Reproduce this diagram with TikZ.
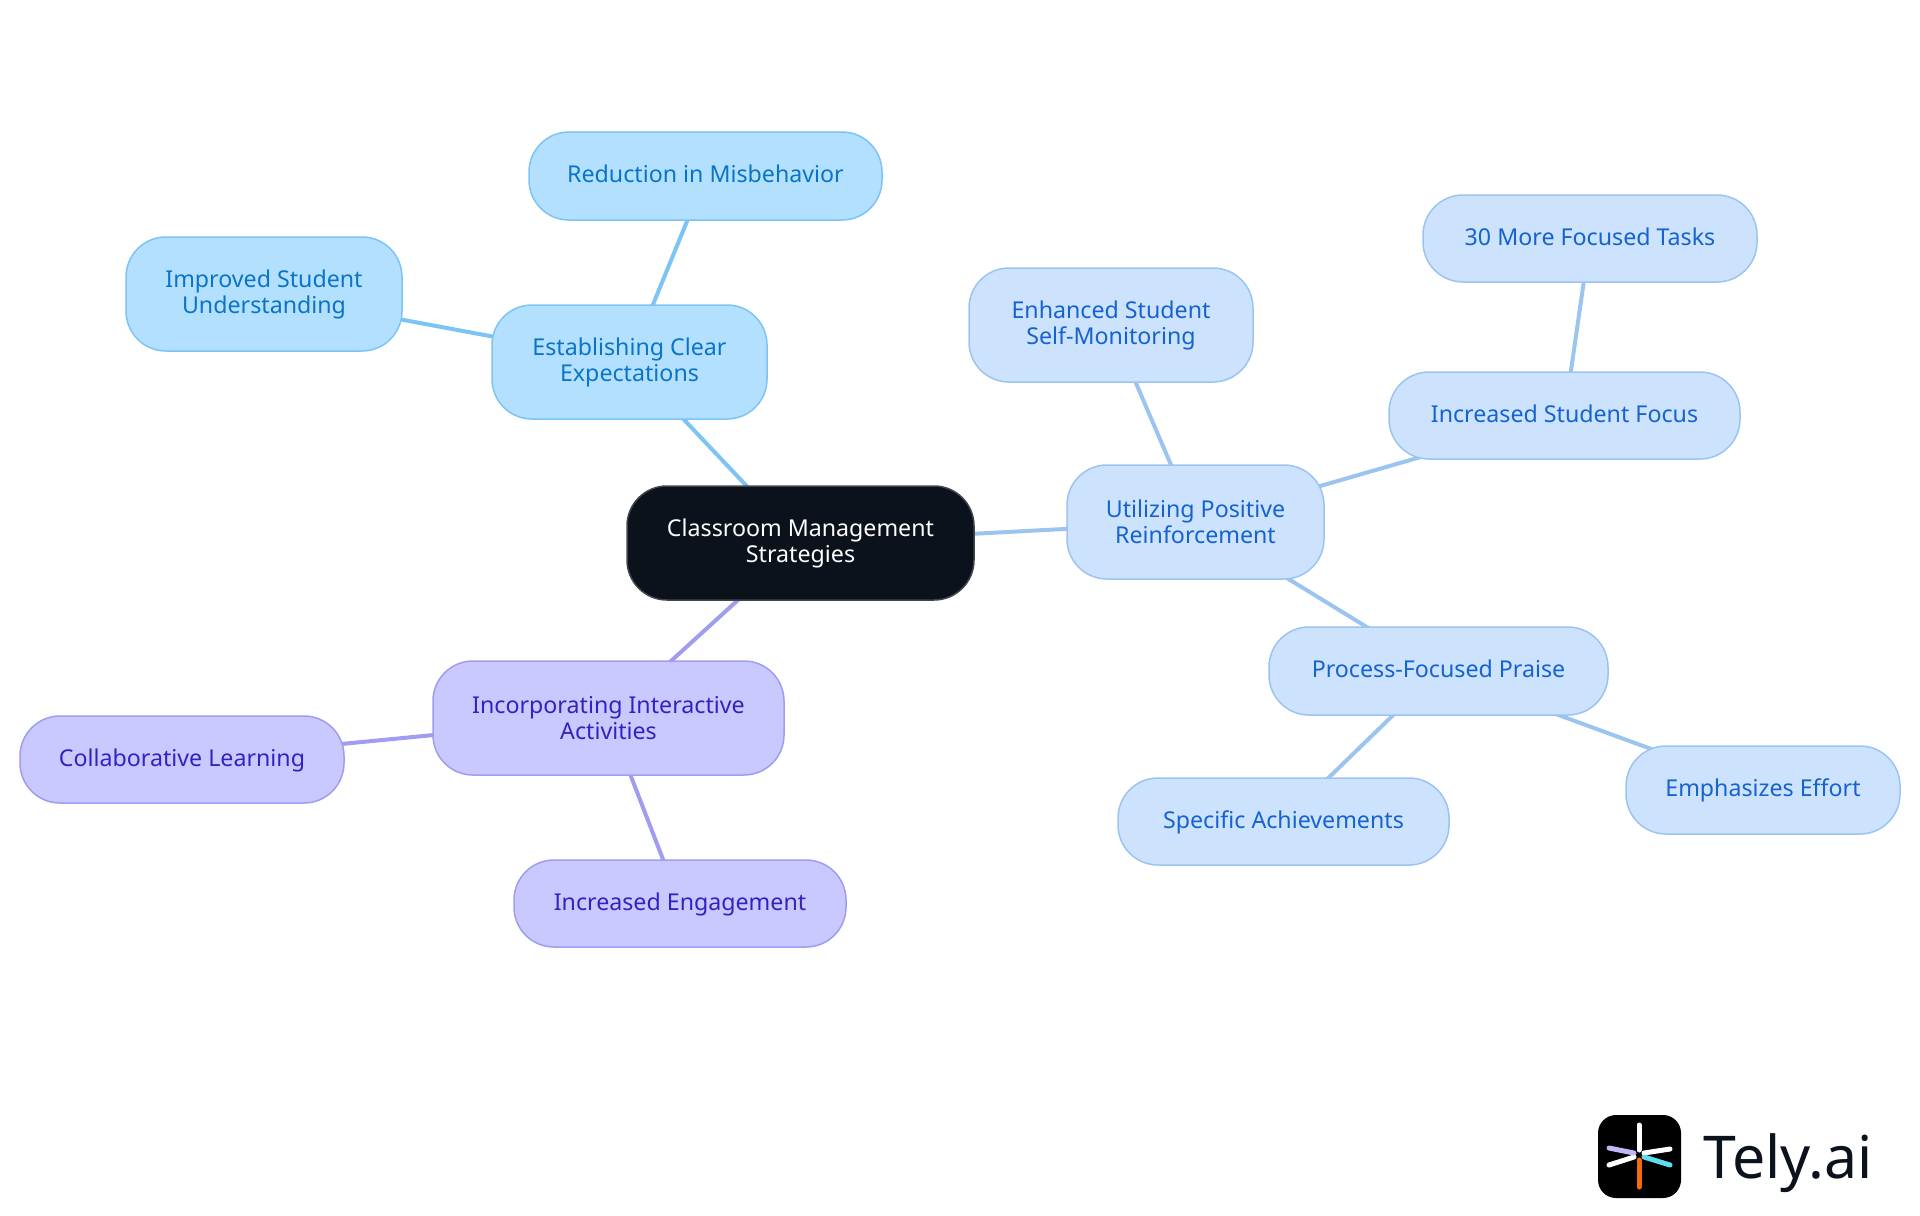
\documentclass[tikz,border=0pt]{standalone}
\usepackage{fontspec}
\setmainfont{Noto Sans}
\usetikzlibrary{backgrounds}
\definecolor{inkdark}{HTML}{0B121B}
\definecolor{edgedark}{HTML}{41464C}
\definecolor{fillsky}{HTML}{B3E0FF}
\definecolor{edgesky}{HTML}{7CC4F5}
\definecolor{textsky}{HTML}{0A74C9}
\definecolor{fillblue}{HTML}{CCE2FD}
\definecolor{edgeblue}{HTML}{9CC4F0}
\definecolor{textblue}{HTML}{1563CF}
\definecolor{fillviolet}{HTML}{C9C9FF}
\definecolor{edgeviolet}{HTML}{A09CF0}
\definecolor{textviolet}{HTML}{3322C0}
\definecolor{raylilac}{HTML}{C4B5F8}
\definecolor{raycyan}{HTML}{5FDDEE}
\definecolor{rayorange}{HTML}{F56A0A}
\tikzset{
	topic/.style={rounded corners=20pt, line width=.75pt, inner sep=0pt, align=center,
		font=\fontsize{11.6}{13}\selectfont},
	oneline/.style={text height=8.8pt, text depth=2pt},
	rootbox/.style={topic, draw=edgedark, fill=inkdark, text=white},
	skybox/.style={topic, draw=edgesky, fill=fillsky, text=textsky},
	bluebox/.style={topic, draw=edgeblue, fill=fillblue, text=textblue},
	violetbox/.style={topic, draw=edgeviolet, fill=fillviolet, text=textviolet},
	ray/.style={line width=2.5pt, line cap=round}
}
\newcommand{\topic}[6]{\node[#2, minimum width=#4*.5pt, minimum height=#5*.5pt] (#1) at (#3) {#6}}
\newcommand{\branch}[3]{\draw[line width=2pt, #3] (#1.center) -- (#2.center)}

\begin{document}
\begin{tikzpicture}[x=.5pt,y=-.5pt]
	\useasboundingbox (0,0) rectangle (1920,1215);
	\topic{root}{rootbox}{800.5,543}{347}{114}{Classroom Management\\Strategies};
	\topic{clear}{skybox}{629.5,362}{275}{114}{Establishing Clear\\Expectations};
	\topic{misbehavior}{skybox,oneline}{705.5,176}{353}{88}{Reduction in Misbehavior};
	\topic{understanding}{skybox}{264,294}{276}{114}{Improved Student\\Understanding};
	\topic{positive}{bluebox}{1195.5,522}{257}{114}{Utilizing Positive\\Reinforcement};
	\topic{monitoring}{bluebox}{1111,325}{284}{114}{Enhanced Student\\Self-Monitoring};
	\topic{focus}{bluebox,oneline}{1564.5,415.5}{351}{87}{Increased Student Focus};
	\topic{tasks}{bluebox,oneline}{1590,238.5}{334}{87}{30 More Focused Tasks};
	\topic{praise}{bluebox,oneline}{1438.5,671}{339}{88}{Process-Focused Praise};
	\topic{achievements}{bluebox,oneline}{1283.5,821.5}{331}{87}{Specific Achievements};
	\topic{effort}{bluebox,oneline}{1763,790}{274}{88}{Emphasizes Effort};
	\topic{interactive}{violetbox}{608.5,718}{351}{114}{Incorporating Interactive\\Activities};
	\topic{learning}{violetbox,oneline}{182,759.5}{324}{87}{Collaborative Learning};
	\topic{engagement}{violetbox,oneline}{680,903.5}{332}{87}{Increased Engagement};
	\begin{pgfonlayer}{background}
		\branch{root}{clear}{edgesky};
		\branch{clear}{misbehavior}{edgesky};
		\branch{clear}{understanding}{edgesky};
		\branch{root}{positive}{edgeblue};
		\branch{positive}{monitoring}{edgeblue};
		\branch{positive}{focus}{edgeblue};
		\branch{focus}{tasks}{edgeblue};
		\branch{positive}{praise}{edgeblue};
		\branch{praise}{achievements}{edgeblue};
		\branch{praise}{effort}{edgeblue};
		\branch{root}{interactive}{edgeviolet};
		\branch{interactive}{learning}{edgeviolet};
		\branch{interactive}{engagement}{edgeviolet};
	\end{pgfonlayer}
	\fill[black, rounded corners=9pt] (1598,1115) rectangle (1681,1198);
	\draw[ray, white] (1639,1150) -- (1639,1125);
	\draw[ray, white] (1634,1157) -- (1609,1165);
	\draw[ray, white] (1644,1153) -- (1670,1149);
	\draw[ray, rayorange] (1639,1160) -- (1639,1187);
	\draw[ray, raylilac] (1634,1153) -- (1609,1148);
	\draw[ray, raycyan] (1644,1157) -- (1670,1165);
	\node[anchor=base west, inner sep=0pt, text=inkdark, font=\fontsize{29.5}{32}\selectfont] (brand) at (1703,1178) {Tely.ai};
\end{tikzpicture}
\end{document}
